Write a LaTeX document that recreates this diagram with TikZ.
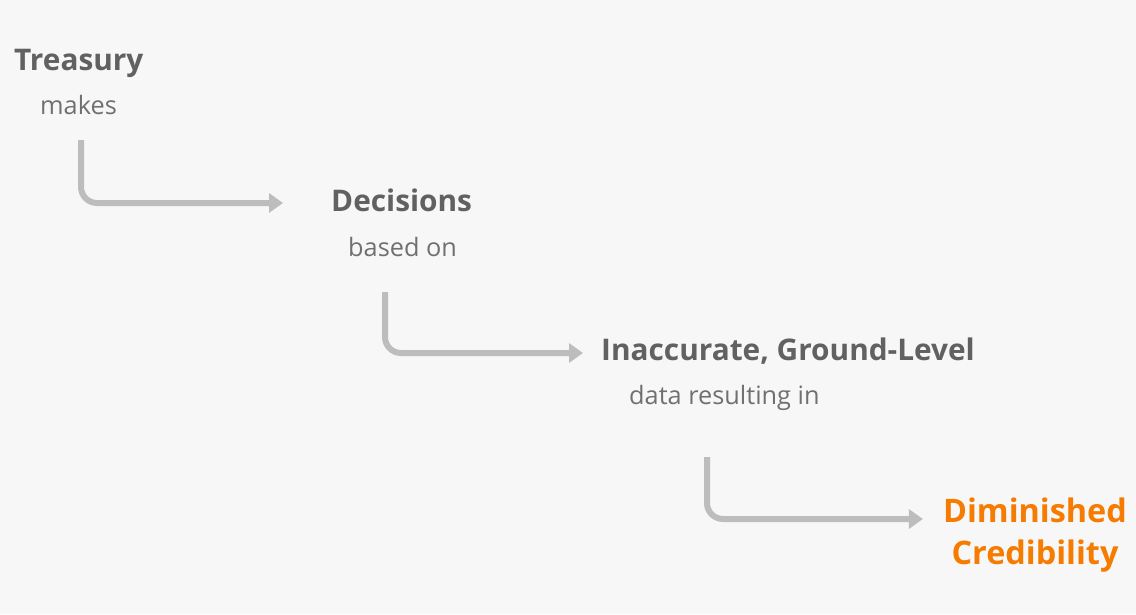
\documentclass[tikz,border=0pt]{standalone}
\usepackage{fontspec}
\setmainfont{Open Sans}
\usetikzlibrary{arrows.meta,calc}
\definecolor{bgc}{HTML}{F7F7F7}
\definecolor{headc}{HTML}{616161}
\definecolor{subc}{HTML}{707070}
\definecolor{arrc}{HTML}{BDBDBD}
\definecolor{orc}{HTML}{F57C00}
\begin{document}
\begin{tikzpicture}[x=1pt,y=-1pt,
  head/.style={font=\fontsize{29.8}{32}\selectfont\bfseries, text=headc, inner sep=0pt, anchor=west},
  sub/.style={font=\fontsize{25.3}{28}\selectfont, text=subc, inner sep=0pt, anchor=west},
  final/.style={font=\fontsize{32.4}{42}\selectfont\bfseries, text=orc, inner sep=0pt, align=center},
  flow/.style={draw=arrc, line width=6pt, rounded corners=16pt, -{Triangle[length=14pt,width=19pt]}}]
\fill[bgc] (0,0) rectangle (1136,614);
\useasboundingbox (0,0) rectangle (1136,614);
\node[head] (t) at (14,63) {Treasury};
\node[sub] (tm) at (40,105) {makes};
\node[head] (d) at (331,200) {Decisions};
\node[sub] (dm) at (348,247) {based on};
\node[head] (g) at (601,351) {Inaccurate, Ground-Level};
\node[sub] (gm) at (629,398) {data resulting in};
\node[final] (c) at (1035,535) {Diminished\\Credibility};
\coordinate (s1) at (81,140);
\coordinate (s2) at (385,292);
\coordinate (s3) at (707,457);
\draw[flow] (s1) |- ($(d.west)+(-48,3)$);
\draw[flow] (s2) |- ($(g.west)+(-18,2)$);
\draw[flow] (s3) |- ($(c.west)+(-20,-16)$);
\end{tikzpicture}
\end{document}
